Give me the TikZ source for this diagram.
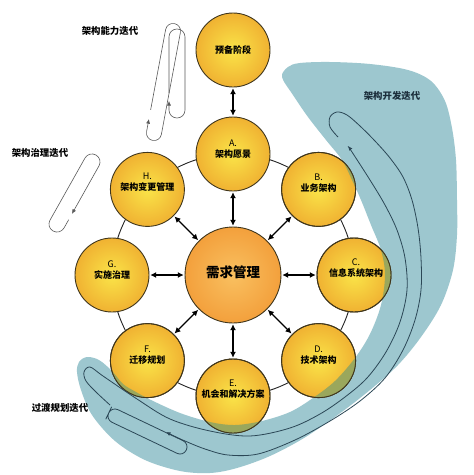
\documentclass[tikz,border=0pt]{standalone}
\usepackage{fontspec}
\setmainfont{Noto Sans CJK SC}
\usetikzlibrary{arrows.meta}
\definecolor{bandc}{HTML}{9DC7CF}
\definecolor{tintc}{HTML}{9AA75C}
\definecolor{ylin}{HTML}{FAE448}
\definecolor{ylout}{HTML}{F0B232}
\definecolor{orin}{HTML}{F9C060}
\definecolor{orout}{HTML}{F3A03C}
\definecolor{bord}{HTML}{40361C}
\definecolor{devline}{HTML}{2B4756}
\definecolor{devtext}{HTML}{1C2F3C}
\begin{document}
\begin{tikzpicture}[x=1pt,y=-1pt,
  ringnode/.style={circle, minimum size=74pt, inner sep=0pt, outer sep=0pt, draw=bord, line width=0.9pt, inner color=ylin, outer color=ylout},
  hub/.style={circle, minimum size=96pt, inner sep=0pt, outer sep=0pt, draw=bord, line width=0.9pt, inner color=orin, outer color=orout},
  txt/.style={align=center, font=\fontsize{9}{10.8}\selectfont\bfseries, inner sep=0pt},
  lbl/.style={font=\fontsize{9.4}{11}\selectfont\bfseries, inner sep=0pt},
  dbl/.style={{Latex[length=6pt,width=6pt]}-{Latex[length=6pt,width=6pt]}, line width=1.3pt, shorten >=1.2pt, shorten <=1.2pt},
  clipw/.style={draw=black!65, line width=0.6pt, rounded corners=7.4pt},
  devw/.style={draw=devline, line width=0.8pt},
  smalltip/.style={-{Latex[length=4.5pt,width=4pt]}},
  bandshape/.style={insert path={plot[smooth cycle, tension=0.55] coordinates {
    (282,77) (288,67) (300,63) (330,62) (370,64) (408,70) (431,81) (445,101) (452,128) (456,160)
    (457,200) (457,235) (453,270) (441,305) (421,337) (398,365) (370,390) (339,414) (304,438)
    (270,456) (237,468) (210,473) (180,471) (145,460) (115,441) (92,415) (81,390) (77,372)
    (79,362) (87,357) (99,360) (112,371) (123,384) (136,392) (151,400) (180,413) (210,422)
    (235,425) (262,421) (290,412) (313,398) (335,381) (355,358) (370,334) (381,305) (385,275)
    (381,250) (371,225) (361,200) (352,180) (342,160) (326,140) (308,117) (293,95)}}}
]
\useasboundingbox (0,0) rectangle (474,475);
\fill[white] (0,0) rectangle (474,475);
% blue band
\fill[bandc, bandshape];
% ring
\draw[line width=0.9pt, draw=black!85] (233,275) circle[radius=121];
% circles
\node[ringnode] (nP) at (233,50) {};
\node[ringnode] (nA) at (233,154) {};
\node[ringnode] (nB) at (318.6,189.4) {};
\node[ringnode] (nC) at (354,275) {};
\node[ringnode] (nD) at (318.6,360.6) {};
\node[ringnode] (nE) at (233,396) {};
\node[ringnode] (nF) at (147.4,360.6) {};
\node[ringnode] (nG) at (112,275) {};
\node[ringnode] (nH) at (147.4,189.4) {};
\node[hub] (ctr) at (233,275) {};
% tint where band overlaps circles
\foreach \n in {nB,nC,nD,nE,nF}{
  \begin{scope}
    \clip (\n.center) circle[radius=37];
    \fill[tintc, bandshape];
  \end{scope}
  \draw[draw=bord, line width=0.9pt] (\n.center) circle[radius=37];
}
% texts
\node[txt] (tP) at (233,50) {预备阶段};
\node[txt] (tA) at (233,149) {\mdseries A.\\架构愿景};
\node[txt] (tB) at (318.6,183) {\mdseries B.\\业务架构};
\node[txt] (tC) at (356,268) {\mdseries C.\\信息系统架构};
\node[txt] (tD) at (318.6,355) {\mdseries D.\\技术架构};
\node[txt] (tE) at (233,389) {\mdseries E.\\机会和解决方案};
\node[txt] (tF) at (147.4,355) {\mdseries F.\\迁移规划};
\node[txt] (tG) at (112,270) {\mdseries G.\\实施治理};
\node[txt] (tH) at (147.4,182) {\mdseries H.\\架构变更管理};
\node[font=\fontsize{13.5}{15}\selectfont\bfseries, inner sep=0pt] (tc) at (233,272) {需求管理};
% arrows
\draw[dbl] (nP) -- (nA);
\foreach \n in {nA,nB,nC,nD,nE,nF,nG,nH}{\draw[dbl] (ctr) -- (\n);}
% development iteration wires
\draw[devw, smalltip] plot[smooth, tension=0.55] coordinates {
  (338,137) (330,127) (330,117) (337,112) (347,115) (360,126) (375,141) (390,158) (403,177)
  (412,200) (418,228) (421,258) (421,290) (415,320) (403,350) (385,378) (360,401) (330,421)
  (295,440) (258,454) (228,455) (205,449) (185,441) (172,435) (166,432)};
\draw[devw, smalltip] plot[smooth, tension=0.55] coordinates {
  (110,405) (96,392) (86,381) (84,372) (90,367) (103,376) (137,399) (170,419) (210,431)
  (250,436) (290,428) (320,414) (345,397) (367,378) (386,352) (400,322) (407,290) (405,258)
  (397,230) (385,205) (370,180) (352,152) (348,146)};
% transition planning clip
\coordinate (trS) at (108.7,413);
\draw[devw, rounded corners=6.8pt] (trS) -- (105.7,419.3) -- (183.3,456.3) -- (189.3,443.7) -- (111.7,406.7) -- cycle;
% governance clip
\coordinate (gvS) at (68.7,219.7);
\coordinate (gvT) at (72,213.8);
\draw[clipw, smalltip, rounded corners=7.9pt] (gvS) -- (60.1,234.9) -- (46.1,227.1) -- (88.9,151.1) -- (102.9,158.9) -- (gvT);
% capability clips
\coordinate (c1S) at (150.65,109.8);
\coordinate (c1T) at (148.9,119.1);
\draw[clipw, smalltip] (c1S) -- (167,22.2) -- (181.8,25) -- (160,141.8) -- (145.2,139) -- (c1T);
\coordinate (c2S) at (169,93);
\coordinate (c2T) at (169,101);
\draw[clipw, smalltip, rounded corners=7.9pt] (c2S) -- (169,29) -- (185,29) -- (185,118) -- (169,118) -- (c2T);
% labels
\node[lbl] (lcap) at (110,31) {架构能力迭代};
\node[lbl] (lgov) at (40,153) {架构治理迭代};
\node[lbl] (ltr) at (60,408) {过渡规划迭代};
\node[lbl, text=devtext] (ldev) at (392,96) {架构开发迭代};
\end{tikzpicture}
\end{document}
